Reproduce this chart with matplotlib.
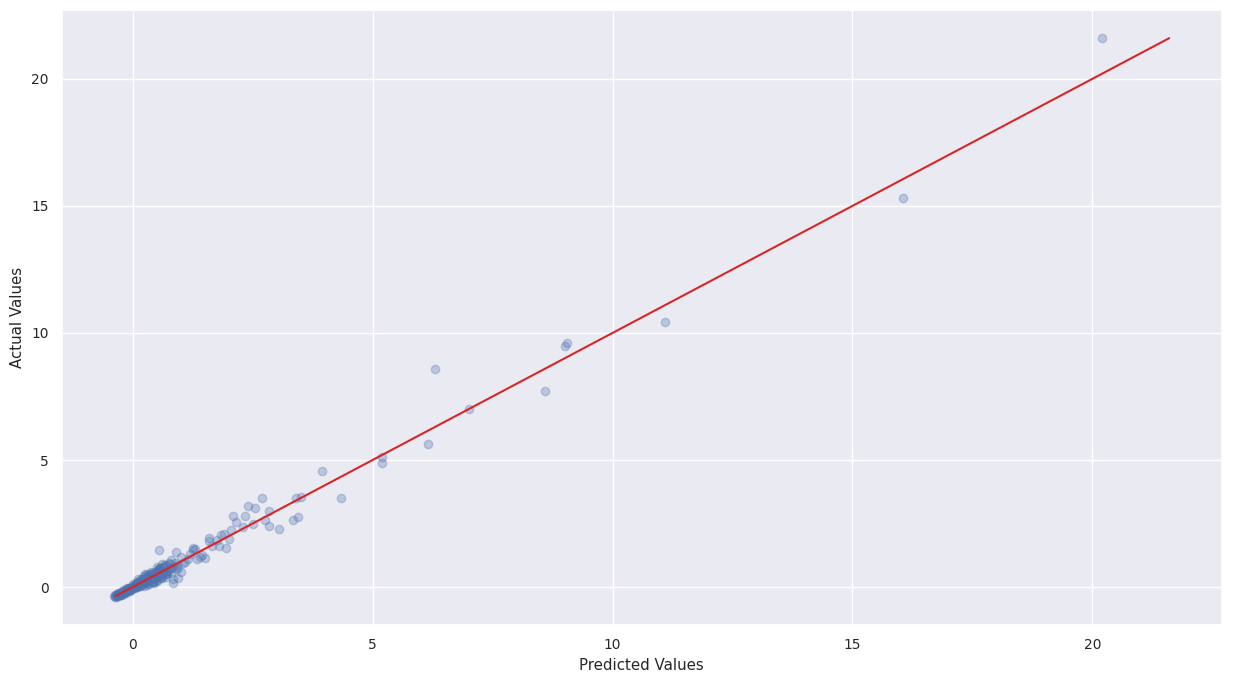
import matplotlib
matplotlib.use("Agg")
import matplotlib.pyplot as plt
import seaborn as sns

sns.set_theme(font_scale=0.9)

# outliers / sparse points
pred_sparse = [20.2, 16.05, 11.1, 9.0, 9.05, 8.6, 7.0, 6.3, 6.15, 5.2, 5.2, 4.35, 3.95,
               3.5, 3.4, 3.45, 3.35, 3.05, 2.85, 2.85, 2.7, 2.75, 2.55, 2.4, 2.5, 2.35,
               2.3, 2.15, 2.1, 2.05, 2.0, 1.9, 1.85, 1.95, 1.8, 1.75, 1.6, 1.6, 1.65,
               1.5, 1.45, 1.35, 1.3, 1.25, 1.2, 1.1, 1.0, 0.9, 0.55, 0.95, 0.85, 1.0,
               0.7, 1.15, 1.05, 0.8, 1.25, 1.4]
act_sparse = [21.6, 15.3, 10.45, 9.5, 9.6, 7.7, 7.0, 8.6, 5.65, 4.9, 5.1, 3.5, 4.55,
              3.55, 3.5, 2.75, 2.65, 2.3, 3.0, 2.4, 3.5, 2.65, 3.1, 3.2, 2.5, 2.8,
              2.35, 2.55, 2.8, 2.25, 1.9, 2.1, 2.05, 1.55, 1.6, 1.85, 1.95, 1.8, 1.6,
              1.15, 1.25, 1.1, 1.5, 1.55, 1.3, 1.0, 1.2, 1.4, 1.45, 0.35, 0.15, 0.6,
              0.5, 1.1, 0.95, 1.05, 1.45, 1.2]

# dense cluster near the origin
pred_dense = [-0.38, -0.36, -0.35, -0.34, -0.33, -0.32, -0.3, -0.29, -0.28, -0.26,
              -0.25, -0.24, -0.22, -0.2, -0.19, -0.18, -0.16, -0.15, -0.13, -0.12,
              -0.1, -0.08, -0.07, -0.05, -0.04, -0.02, 0.0, 0.01, 0.03, 0.05, 0.06,
              0.08, 0.1, 0.12, 0.13, 0.15, 0.17, 0.2, 0.22, 0.25, 0.27, 0.3, 0.32,
              0.35, 0.38, 0.4, 0.42, 0.45, 0.48, 0.5, 0.52, 0.55, 0.58, 0.6, 0.63,
              0.65, 0.68, 0.7, 0.73, 0.75, 0.78, 0.8, 0.85, 0.88, 0.9, 0.92, 0.95,
              -0.3, -0.25, -0.2, -0.15, -0.1, -0.05, 0.0, 0.05, 0.1, 0.15, 0.2, 0.25,
              0.3, 0.35, 0.4, 0.45, 0.5, 0.55, 0.6, 0.65, 0.7, 0.75, 0.8, 0.85,
              -0.33, -0.27, -0.22, -0.17, -0.12, -0.06, 0.02, 0.08, 0.14, 0.21, 0.28,
              0.33, 0.41, 0.47, 0.53, 0.6, 0.67, 0.72, 0.36, 0.5, 0.44, 0.57, 0.25,
              -0.37, -0.31, -0.27, -0.23, -0.18, -0.14, -0.09, -0.03, 0.04, 0.09,
              0.16, 0.19, 0.24, 0.29, 0.34, 0.39, 0.43, 0.46, 0.51, 0.56, 0.62, 0.66,
              0.24, 0.31, 0.18, 0.12, 0.07, 0.45, 0.38, 0.28, 0.61, 0.54]
act_dense = [-0.36, -0.33, -0.38, -0.3, -0.35, -0.28, -0.32, -0.25, -0.3, -0.27,
             -0.22, -0.28, -0.2, -0.25, -0.15, -0.2, -0.18, -0.1, -0.15, -0.08,
             -0.12, -0.05, -0.1, -0.02, -0.08, 0.02, -0.03, 0.05, 0.0, 0.08, 0.02,
             0.1, 0.05, 0.15, 0.08, 0.2, 0.1, 0.25, 0.15, 0.3, 0.2, 0.35, 0.25,
             0.4, 0.3, 0.45, 0.35, 0.5, 0.4, 0.6, 0.45, 0.7, 0.5, 0.75, 0.55,
             0.8, 0.6, 0.85, 0.65, 0.7, 0.9, 0.75, 0.8, 0.95, 0.7, 0.85, 0.75,
             -0.22, -0.3, -0.12, -0.2, -0.02, -0.15, 0.12, -0.02, 0.2, 0.05, 0.3, 0.15,
             0.1, 0.4, 0.2, 0.55, 0.25, 0.75, 0.35, 0.85, 0.4, 0.95, 0.55, 0.3,
             -0.3, -0.33, -0.18, -0.25, -0.05, -0.1, 0.1, 0.0, 0.25, 0.12, 0.4,
             0.18, 0.55, 0.3, 0.65, 0.4, 0.5, 0.55, 0.5, 0.8, 0.15, 0.45, 0.5,
             -0.39, -0.36, -0.31, -0.3, -0.22, -0.22, -0.14, -0.12, 0.0, 0.0,
             0.05, 0.22, 0.05, 0.38, 0.12, 0.42, 0.22, 0.6, 0.28, 0.7, 0.35, 0.8,
             0.45, 0.52, 0.32, 0.3, 0.18, 0.22, 0.6, 0.48, 0.9, 0.72]

pred = pred_sparse + pred_dense
actual = act_sparse + act_dense

line_min, line_max = -0.35, 21.6

fig, ax = plt.subplots(figsize=(12.33, 6.83), dpi=100)
ax.scatter(pred, actual, alpha=0.3)
ax.plot([line_min, line_max], [line_min, line_max], color="tab:red")
ax.set_xlabel("Predicted Values")
ax.set_ylabel("Actual Values")
fig.subplots_adjust(left=0.05, right=0.991, top=0.985, bottom=0.085)
fig.savefig("out.png")
